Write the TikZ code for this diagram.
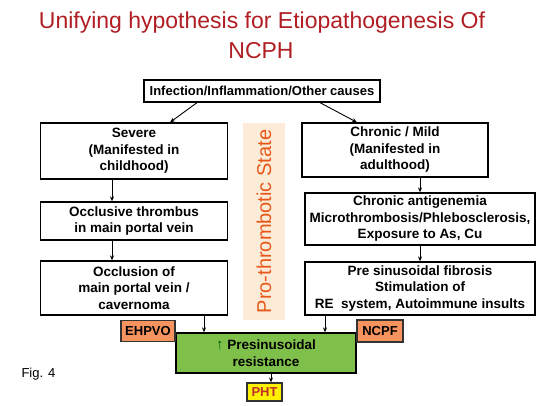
\documentclass[tikz,border=0pt]{standalone}
\usepackage{fontspec}
\setmainfont{Liberation Sans}
\usetikzlibrary{arrows.meta,calc}
\definecolor{titlered}{HTML}{B01E23}
\definecolor{proorange}{HTML}{E8581A}
\definecolor{probg}{HTML}{FCEBD6}
\definecolor{boxgreen}{HTML}{7FC04A}
\definecolor{salmon}{HTML}{F7935F}
\definecolor{phtred}{HTML}{C0302A}
\tikzset{
  box/.style={draw=black, line width=1.3pt, fill=white, align=center, inner sep=1pt,
    font=\fontsize{13.5}{16.5}\selectfont\bfseries},
  tag/.style={draw=black!80, line width=1.1pt, align=center, inner sep=1pt,
    font=\fontsize{13}{16}\selectfont\bfseries},
  arr/.style={line width=0.9pt, -{Stealth[length=5pt,width=4pt]}},
}
\begin{document}
\begin{tikzpicture}[x=1pt,y=-1pt]
\useasboundingbox (0,0) rectangle (540,405);
% title
\node[anchor=base, text=titlered, font=\fontsize{23}{30}\selectfont] (title1) at (262,28) {Unifying hypothesis for Etiopathogenesis Of};
\node[anchor=base, text=titlered, font=\fontsize{23}{30}\selectfont] (title2) at (261,58) {NCPH};
% pro-thrombotic band
\node[fill=probg, rotate=90, minimum width=197pt, minimum height=42pt, inner sep=0pt,
  text=proorange, font=\fontsize{20}{24}\selectfont] (pro) at (264,221.5) {Pro-thrombotic State};
% boxes
\node[box, font=\fontsize{13}{16}\selectfont\bfseries, minimum width=236pt, minimum height=22pt] (top) at (262,91) {Infection/Inflammation/Other causes};
\node[box, minimum width=187pt, minimum height=56pt] (severe) at (134,151) {Severe\\(Manifested in\\childhood)};
\node[box, minimum width=187pt, minimum height=38pt] (occl) at (134,221) {Occlusive thrombus\\in main portal vein};
\node[box, minimum width=187pt, minimum height=54pt] (occl2) at (134,288) {Occlusion of\\main portal vein /\\cavernoma};
\node[box, minimum width=186pt, minimum height=54pt] (chronic) at (395,150) {Chronic / Mild\\(Manifested in\\adulthood)};
\node[box, minimum width=230pt, minimum height=52pt] (antig) at (420,219) {Chronic antigenemia\\Microthrombosis/Phlebosclerosis,\\Exposure to As, Cu};
\node[box, minimum width=230pt, minimum height=53pt] (fib) at (420,288.5) {Pre sinusoidal fibrosis\\Stimulation of\\RE\ \ system, Autoimmune insults};
\node[box, fill=boxgreen, minimum width=180pt, minimum height=40pt] (green) at (266,353) {\textcolor{green!40!black}{\fontsize{15}{16}\selectfont\textuparrow}\ Presinusoidal\\resistance};
\node[tag, fill=salmon, minimum width=54pt, minimum height=21pt] (ehpvo) at (148,331) {EHPVO};
\node[tag, fill=salmon, minimum width=46pt, minimum height=22pt] (ncpf) at (380,331) {NCPF};
\node[tag, fill=yellow, text=phtred, minimum width=35pt, minimum height=18pt] (pht) at (264.5,392) {PHT};
\node[anchor=base west, font=\fontsize{13}{16}\selectfont] (fig) at (18,377) {Fig. 4};
% arrows
\draw[arr] ([xshift=-65pt]top.south) -- ([xshift=36pt]severe.north);
\draw[arr] ([xshift=58pt]top.south) -- ([xshift=-38pt]chronic.north);
\draw[arr] ([xshift=-22pt]severe.south) -- ([xshift=-22pt]severe.south |- occl.north);
\draw[arr] ([xshift=-22pt]occl.south) -- ([xshift=-22pt]occl.south |- occl2.north);
\draw[arr] ([xshift=25pt]chronic.south) -- ([xshift=25pt]chronic.south |- antig.north);
\draw[arr] (antig.south) -- (fib.north);
\draw[arr] ([xshift=70pt]occl2.south) -- ([xshift=70pt]occl2.south |- green.north);
\draw[arr] ([xshift=-95pt]fib.south) -- ([xshift=-95pt]fib.south |- green.north);
\draw[arr] ([xshift=5pt]green.south) -- ([xshift=5pt]green.south |- pht.north);
\end{tikzpicture}
\end{document}
